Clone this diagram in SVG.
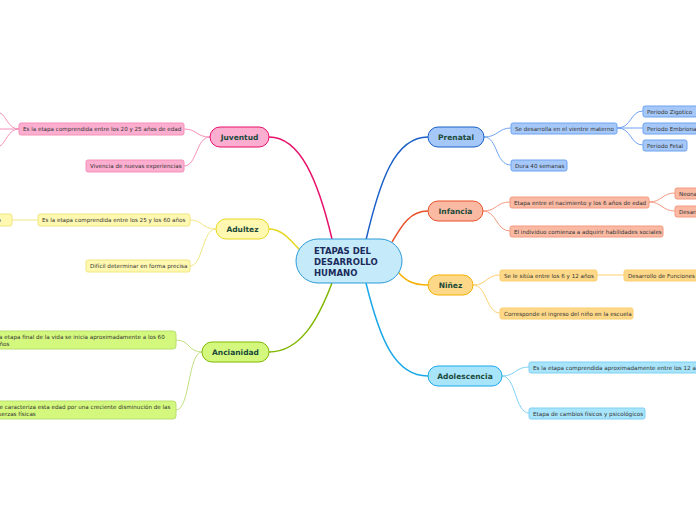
<svg xmlns="http://www.w3.org/2000/svg" width="696" height="520" viewBox="0 0 696 520">
<style>
text{font-family:"DejaVu Sans",Verdana,sans-serif}
.m{font-size:7.5px;font-weight:bold;fill:#1a4a3a;text-anchor:middle}
.s{font-size:5.6px;fill:#333}
.c{fill:none;stroke-width:1}
.k{fill:none;stroke-width:1.5}
</style>
<rect width="696" height="520" fill="#fff"/>
<g id="connectors">
<path class="k" stroke="#1a5fc8" d="M366,240 C380,180 395,137 428,137"/>
<path class="k" stroke="#e85028" d="M392,242 C402,225 410,211 428,211"/>
<path class="k" stroke="#f5b000" d="M398,272 C405,280 412,285 428,285"/>
<path class="k" stroke="#1aa8e8" d="M366,283 C380,340 395,376 428,376"/>
<path class="k" stroke="#e8106a" d="M332,239 C318,180 300,137 269,137"/>
<path class="k" stroke="#e8d820" d="M300,250 C290,240 282,229 269,229"/>
<path class="k" stroke="#80b800" d="M332,283 C318,320 300,352 269,352"/>
<g stroke="#6fa3f0" class="c"><path d="M484,137 C498,137 498,128 511,128"/><path d="M484,137 C498,137 495,165 511,165"/><path d="M617,128 C632,128 630,111 643,111"/><path d="M617,128 L643,128"/><path d="M617,128 C632,128 630,145 643,145"/></g>
<g stroke="#f59a80" class="c"><path d="M483,211 C497,211 496,202 510,202"/><path d="M483,211 C497,211 496,231 510,231"/><path d="M649,202 C662,202 662,193 675,193"/><path d="M649,202 C662,202 662,211 675,211"/></g>
<g stroke="#fdd070" class="c"><path d="M473,285 C487,285 486,275 500,275"/><path d="M473,285 C487,285 486,313 500,313"/><path d="M597,275 L624,275"/></g>
<g stroke="#7fd0f5" class="c"><path d="M502,376 C516,376 515,367 529,367"/><path d="M502,376 C516,376 515,413 529,413"/></g>
<g stroke="#f590b8" class="c"><path d="M210,137 C196,137 197,129 184,129"/><path d="M210,137 C196,137 197,166 184,166"/><path d="M19,129 C8,129 6,115 0,113"/><path d="M19,129 L0,129"/><path d="M19,129 C8,129 6,143 0,146"/></g>
<g stroke="#f0e680" class="c"><path d="M216,229 C202,229 203,220 190,220"/><path d="M216,229 C202,229 203,266 190,266"/><path d="M38,220 L12,220"/></g>
<g stroke="#c0e080" class="c"><path d="M202,352 C188,352 190,340 176,340"/><path d="M202,352 C188,352 190,410 176,410"/></g>
</g>
<g id="center"><rect x="296" y="239" width="106" height="44" rx="22" fill="#c5eafa" stroke="#2a9ad8"/>
<text x="314" y="254" font-size="8.5" font-weight="bold" fill="#1a2a5a">ETAPAS DEL</text>
<text x="314" y="265" font-size="8.5" font-weight="bold" fill="#1a2a5a">DESARROLLO</text>
<text x="314" y="276" font-size="8.5" font-weight="bold" fill="#1a2a5a">HUMANO</text></g>
<g id="prenatal"><rect x="428" y="127" width="56" height="20" rx="10" fill="#a6c8f8" stroke="#1a5fc8"/><text class="m" x="456" y="140">Prenatal</text></g>
<g id="infancia"><rect x="428" y="201" width="55" height="20" rx="10" fill="#f9b9a3" stroke="#e85028"/><text class="m" x="455.5" y="214">Infancia</text></g>
<g id="ninez"><rect x="428" y="275" width="45" height="20" rx="10" fill="#fdd888" stroke="#f5b000"/><text class="m" x="450.5" y="288">Niñez</text></g>
<g id="adolescencia"><rect x="428" y="366" width="74" height="20" rx="10" fill="#a8e4fa" stroke="#1aa8e8"/><text class="m" x="465" y="379">Adolescencia</text></g>
<g id="juventud"><rect x="210" y="127" width="59" height="20" rx="10" fill="#fcaed0" stroke="#e8106a"/><text class="m" x="239.5" y="140">Juventud</text></g>
<g id="adultez"><rect x="216" y="219" width="53" height="20" rx="10" fill="#fff8b0" stroke="#e8d820"/><text class="m" x="242.5" y="232">Adultez</text></g>
<g id="ancianidad"><rect x="202" y="342" width="67" height="20" rx="10" fill="#d4f87e" stroke="#80b800"/><text class="m" x="235.5" y="355">Ancianidad</text></g>
<g fill="#a6c8f8" stroke="#6fa3f0">
<g id="p1"><rect x="511" y="123" width="106" height="11" rx="2"/><text class="s" stroke="none" x="515" y="130.5">Se desarrolla en el vientre materno</text></g>
<g id="p2"><rect x="511" y="160" width="56" height="11" rx="2"/><text class="s" stroke="none" x="515" y="167.5">Dura 40 semanas</text></g>
<g id="p3"><rect x="643" y="106" width="56" height="11" rx="2"/><text class="s" stroke="none" x="647" y="113.5">Periodo Zigotico</text></g>
<g id="p4"><rect x="643" y="123" width="60" height="11" rx="2"/><text class="s" stroke="none" x="647" y="130.5">Periodo Embrionario</text></g>
<g id="p5"><rect x="643" y="140" width="44" height="11" rx="2"/><text class="s" stroke="none" x="647" y="147.5">Periodo Fetal</text></g>
</g>
<g fill="#f9b9a3" stroke="#f59a80">
<g id="i1"><rect x="510" y="197" width="139" height="11" rx="2"/><text class="s" stroke="none" x="514" y="204.5">Etapa entre el nacimiento y los 6 años de edad</text></g>
<g id="i2"><rect x="510" y="226" width="153" height="11" rx="2"/><text class="s" stroke="none" x="514" y="233.5">El individuo comienza a adquirir habilidades sociales</text></g>
<g id="i3"><rect x="675" y="188" width="30" height="11" rx="2"/><text class="s" stroke="none" x="679" y="195.5">Neonatal</text></g>
<g id="i4"><rect x="675" y="206" width="30" height="11" rx="2"/><text class="s" stroke="none" x="679" y="213.5">Desarrollo</text></g>
</g>
<g fill="#fdd888" stroke="#fdd070">
<g id="n1"><rect x="500" y="270" width="97" height="11" rx="2"/><text class="s" stroke="none" x="504" y="277.5">Se le sitúa entre los 6 y 12 años</text></g>
<g id="n2"><rect x="624" y="270" width="80" height="11" rx="2"/><text class="s" stroke="none" x="628" y="277.5">Desarrollo de Funciones</text></g>
<g id="n3"><rect x="500" y="308" width="133" height="11" rx="2"/><text class="s" stroke="none" x="504" y="315.5">Corresponde el ingreso del niño en la escuela</text></g>
</g>
<g fill="#a8e4fa" stroke="#7fd0f5">
<g id="a1"><rect x="529" y="362" width="175" height="11" rx="2"/><text class="s" stroke="none" x="533" y="369.5">Es la etapa comprendida aproximadamente entre los 12 a</text></g>
<g id="a2"><rect x="529" y="408" width="116" height="11" rx="2"/><text class="s" stroke="none" x="533" y="415.5">Etapa de cambios físicos y psicológicos</text></g>
</g>
<g fill="#fcaed0" stroke="#f590b8">
<g id="j1"><rect x="19" y="123" width="165" height="12" rx="2"/><text class="s" stroke="none" x="23" y="131">Es la etapa comprendida entre los 20 y 25 años de edad</text></g>
<g id="j2"><rect x="86" y="160" width="98" height="12" rx="2"/><text class="s" stroke="none" x="90" y="168">Vivencia de nuevas experiencias</text></g>
</g>
<g fill="#fff8b0" stroke="#f0e680">
<g id="d1"><rect x="38" y="214" width="152" height="12" rx="2"/><text class="s" stroke="none" x="42" y="222">Es la etapa comprendida entre  los 25 y los 60 años</text></g>
<g id="d2"><rect x="86" y="260" width="104" height="12" rx="2"/><text class="s" stroke="none" x="90" y="268">Difícil determinar en forma precisa</text></g>
<g id="d3"><rect x="-30" y="214" width="42" height="12" rx="2"/><text class="s" stroke="none" x="-8" y="222">mo</text></g>
</g>
<g fill="#d4f87e" stroke="#b8e070">
<g id="c1"><rect x="-10" y="331" width="186" height="18" rx="3"/><text class="s" stroke="none" x="-4" y="339">La etapa final de la vida se inicia aproximadamente a los 60</text><text class="s" stroke="none" x="-4" y="346">años</text></g>
<g id="c2"><rect x="-10" y="401" width="186" height="18" rx="3"/><text class="s" stroke="none" x="-4" y="409">Se caracteriza esta edad por una creciente disminución de las</text><text class="s" stroke="none" x="-4" y="416">fuerzas físicas</text></g>
</g>
</svg>
